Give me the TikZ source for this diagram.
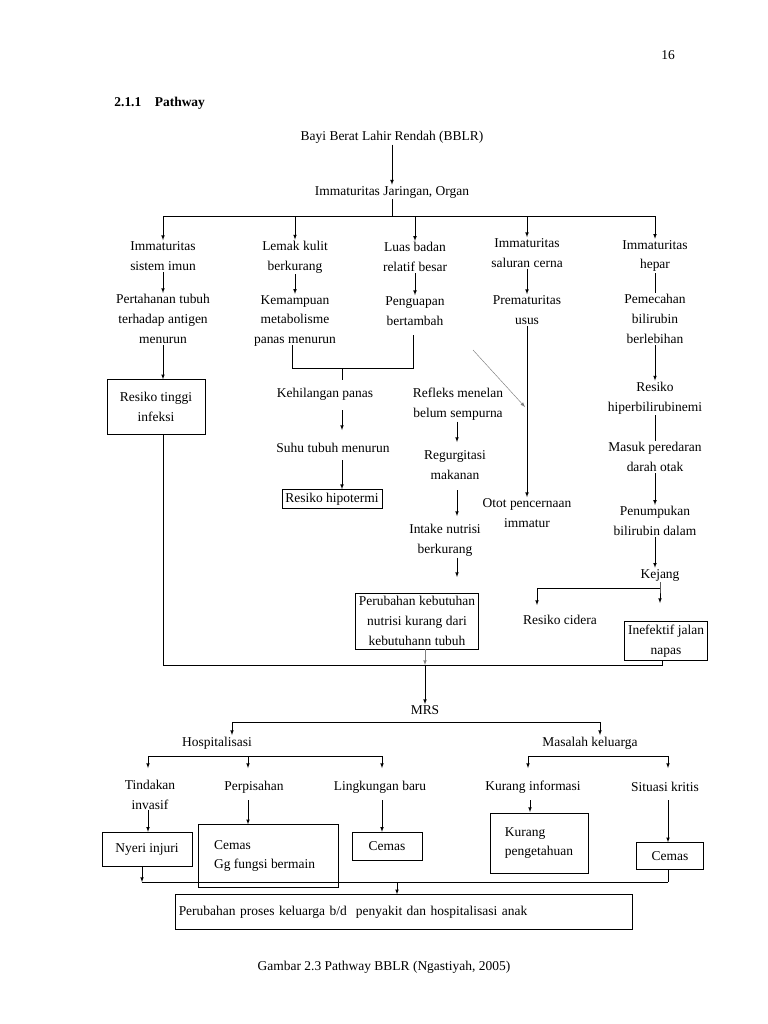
\documentclass[tikz,border=0pt]{standalone}
\usepackage{fontspec}
\setmainfont{Liberation Serif}
\begin{document}
\begin{tikzpicture}[x=0.03cm,y=-0.03cm,
  txt/.style={align=center,inner sep=1pt,font=\fontsize{11.5}{17}\selectfont},
  box/.style={draw,align=center,inner sep=3pt,font=\fontsize{11.5}{17}\selectfont},
  arr/.style={-latex,thin},
  ln/.style={thin}]

\useasboundingbox (0,0) rectangle (768,1024);

\node[txt] (PG) at (668,55) {16};
\node[txt,font=\bfseries\fontsize{11.5}{14}\selectfont,anchor=west] (HD) at (113,103) {2.1.1\quad Pathway};

\node[txt] (BBLR) at (392,137) {Bayi Berat Lahir Rendah (BBLR)};
\node[txt] (IJO) at (392,192) {Immaturitas Jaringan, Organ};
\draw[arr] (BBLR) -- (IJO);

% level one
\node[txt] (A1) at (163,256) {Immaturitas\\sistem imun};
\node[txt] (B1) at (295,257) {Lemak kulit\\berkurang};
\node[txt] (C1) at (415,257) {Luas badan\\relatif besar};
\node[txt] (D1) at (527,253) {Immaturitas\\saluran cerna};
\node[txt] (E1) at (655,256) {Immaturitas\\hepar};

\coordinate (J0) at (392,216);
\draw[ln] (IJO) -- (J0);
\draw[ln] (163,216) -- (655,216);
\foreach \n/\x in {A1/163,B1/295,C1/415,D1/527,E1/655}
{
  \draw[arr] (\x,216) -- (\n.north -| \x,0);
}

% column one
\node[txt] (A2) at (163,319) {Pertahanan tubuh\\terhadap antigen\\menurun};
\node[box,minimum width=98*0.03cm,minimum height=55*0.03cm] (A3) at (156,407) {Resiko tinggi\\infeksi};
\draw[arr] (A1) -- (A2);
\draw[arr] (A2) -- (A2 |- A3.north);

% column two and three
\node[txt] (B2) at (295,321) {Kemampuan\\metabolisme\\panas menurun};
\node[txt] (C2) at (415,311) {Penguapan\\bertambah};
\draw[arr] (B1) -- (B2);
\draw[arr] (C1) -- (C2);
\coordinate (BC) at (342,368);
\draw[ln] (292,345) -- (292,368) -- (413,368) -- (413,335);
\node[txt] (B3) at (325,394) {Kehilangan panas};
\draw[ln] (BC) -- (342,380);
\node[txt] (B4) at (333,448) {Suhu tubuh menurun};
\draw[arr] (342,410) -- (342,430);
\node[box] (B5) at (332,499) {Resiko hipotermi};
\draw[arr] (342,460) -- (B5.north -| 342,0);

% column four
\node[txt] (D2) at (527,310) {Prematuritas\\usus};
\draw[arr] (D1) -- (D2);
\node[txt] (D3) at (527,513) {Otot pencernaan\\immatur};
\draw[arr] (D2) -- (D3);
\draw[arr,gray] (473,350) -- (525,407);

\node[txt] (F1) at (458,404) {Refleks menelan\\belum sempurna};
\node[txt] (F2) at (455,465) {Regurgitasi\\makanan};
\node[txt] (F3) at (445,540) {Intake nutrisi\\berkurang};
\node[box] (F4) at (417,621) {Perubahan kebutuhan\\nutrisi kurang dari\\kebutuhann tubuh};
\draw[arr] (F1.south -| 457,0) -- (457,442);
\draw[arr] (457,490) -- (457,516);
\draw[arr] (F3.south -| 457,0) -- (457,577);

% column five
\node[txt] (E2) at (655,319) {Pemecahan\\bilirubin\\berlebihan};
\node[txt] (E3) at (655,398) {Resiko\\hiperbilirubinemi};
\node[txt] (E4) at (655,457) {Masuk peredaran\\darah otak};
\node[txt] (E5) at (655,521) {Penumpukan\\bilirubin dalam};
\node[txt] (E6) at (660,575) {Kejang};
\draw[ln] (E1) -- (E2);
\draw[arr] (E2) -- (E3);
\draw[ln] (E3) -- (E4);
\draw[arr] (E4) -- (E5);
\draw[arr] (E5) -- (E5 |- E6.north);
\coordinate (K1) at (537,588);
\coordinate (K2) at (660,588);
\draw[ln] (K1) -- (K2);
\node[txt] (G1) at (560,620) {Resiko cidera};
\node[box] (G2) at (666,641) {Inefektif jalan\\napas};
\draw[arr] (E6) -- (K2) -- (660,603);
\draw[arr] (K1) -- (537,605);

% collector
\coordinate (M0) at (425,665);
\draw[ln] (A3.south -| 163,0) -- (163,665) -- (662,665) -- (G2.south -| 662,0);
\draw[arr,gray] (F4.south -| 425,0) -- (M0);
\node[txt] (MRS) at (425,710) {MRS};
\draw[arr] (M0) -- (MRS);

\draw[ln] (232,722) -- (600,722);
\node[txt] (H0) at (217,743) {Hospitalisasi};
\node[txt] (K0) at (590,743) {Masalah keluarga};
\draw[arr] (232,722) -- (232,735);
\draw[arr] (600,722) -- (600,735);

\draw[ln] (148,756) -- (382,756);
\draw[ln] (528,756) -- (668,756);
\node[txt] (H1) at (150,795) {Tindakan\\invasif};
\node[txt] (H2) at (254,787) {Perpisahan};
\node[txt] (H3) at (380,787) {Lingkungan baru};
\node[txt] (K3) at (533,787) {Kurang informasi};
\node[txt] (K4) at (665,787) {Situasi kritis};
\foreach \x in {148,248,382,528,668}
{
  \draw[arr] (\x,756) -- (\x,768);
}

\node[box,minimum width=90*0.03cm,minimum height=34*0.03cm] (N1) at (147,849) {Nyeri injuri};
\node[box,align=left,minimum width=140*0.03cm,minimum height=63*0.03cm] (N2) at (268,856) {Cemas\\Gg fungsi bermain\phantom{x}};
\node[box,minimum width=70*0.03cm,minimum height=28*0.03cm] (N3) at (387,846) {Cemas};
\node[box,align=left,minimum width=98*0.03cm,minimum height=60*0.03cm] (N4) at (539,843) {Kurang\\pengetahuan};
\node[box,minimum width=67*0.03cm,minimum height=27*0.03cm] (N5) at (670,856) {Cemas};
\draw[arr] (148,810) -- (N1.north -| 148,0);
\draw[arr] (248,800) -- (N2.north -| 248,0);
\draw[arr] (382,800) -- (N3.north -| 382,0);
\draw[arr] (530,800) -- (530,812);
\draw[arr] (668,800) -- (N5.north -| 668,0);

\coordinate (P0) at (397,882);
\draw[ln] (142,882) -- (668,882);
\draw[arr] (N1.south -| 142,0) -- (142,882);
\draw[ln] (N5.south -| 668,0) -- (668,882);
\node[box,anchor=west,text width=450*0.03cm,align=left,minimum height=35*0.03cm] (Z) at (175,912) {Perubahan proses keluarga b/d\ \ penyakit dan hospitalisasi anak};
\draw[arr] (P0) -- (Z.north -| P0);

\node[txt] (CAP) at (384,967) {Gambar 2.3 Pathway BBLR (Ngastiyah, 2005)};

\end{tikzpicture}
\end{document}
